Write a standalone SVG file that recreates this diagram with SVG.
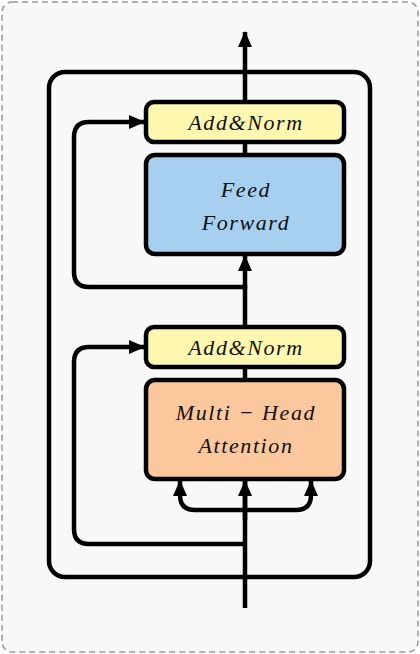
<svg xmlns="http://www.w3.org/2000/svg" width="420" height="654" viewBox="0 0 420 654">
<defs>
<marker id="ah" markerWidth="16" markerHeight="14" refX="15" refY="7" orient="auto" markerUnits="userSpaceOnUse">
<path d="M0,0 L16,7 L0,14 Z" fill="#000"/>
</marker>
<style>
.box{stroke:#000;stroke-width:4.5}
.ln{fill:none;stroke:#000;stroke-width:4.5}
.t{font-family:"Liberation Serif","DejaVu Serif",serif;font-style:italic;font-size:22px;letter-spacing:1.6px;fill:#111;text-anchor:middle}
</style>
</defs>
<rect x="2" y="2" width="416" height="650" rx="10" fill="#f8f8f8" stroke="#999" stroke-width="1.5" stroke-dasharray="6,4"/>
<g id="block">
<rect x="49" y="72" width="321" height="505" rx="16" class="ln"/>
</g>
<g id="connectors">
<path class="ln" d="M245,608 V285"/>
<path class="ln" d="M245,289 V256" marker-end="url(#ah)"/>
<path class="ln" d="M245,142 V155"/>
<path class="ln" d="M245,102 V32" marker-end="url(#ah)"/>
<path class="ln" d="M245,287 H89 Q74,287 74,272 V137 Q74,122 89,122 H144" marker-end="url(#ah)"/>
<path class="ln" d="M245,544 H89 Q74,544 74,529 V362 Q74,347 89,347 H144" marker-end="url(#ah)"/>
<path class="ln" d="M245,510 H195 Q180,510 180,495 V481" marker-end="url(#ah)"/>
<path class="ln" d="M245,510 H296 Q311,510 311,495 V481" marker-end="url(#ah)"/>
<path class="ln" d="M245,520 V481" marker-end="url(#ah)"/>
</g>
<g id="addnorm2">
<rect class="box" x="146" y="102" width="198" height="40" rx="8" fill="#fdf7b0"/>
<text class="t" x="246" y="130">Add&amp;Norm</text>
</g>
<g id="feedforward">
<rect class="box" x="146" y="155" width="198" height="99" rx="9" fill="#a7d0f0"/>
<text class="t" x="246" y="197">Feed</text>
<text class="t" x="246" y="230">Forward</text>
</g>
<g id="addnorm1">
<rect class="box" x="146" y="327" width="198" height="40" rx="8" fill="#fdf7b0"/>
<text class="t" x="246" y="355">Add&amp;Norm</text>
</g>
<g id="mha">
<rect class="box" x="146" y="380" width="198" height="99" rx="9" fill="#fbc79d"/>
<text class="t" x="246" y="420">Multi − Head</text>
<text class="t" x="246" y="453">Attention</text>
</g>
</svg>
